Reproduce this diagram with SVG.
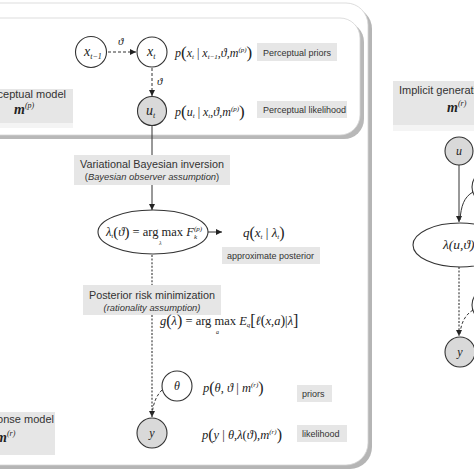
<svg xmlns="http://www.w3.org/2000/svg" width="474" height="474" viewBox="0 0 474 474">
<defs>
<style>
.s{font-family:"Liberation Sans",Arial,sans-serif;fill:#333}
.m{font-family:"Liberation Serif","Times New Roman",serif;fill:#222}
.i{font-style:italic}
.b{font-weight:bold}
.box{fill:#e6e6e6}
.nd{fill:#fff;stroke:#333;stroke-width:1.1}
.ng{fill:#d9d9d9;stroke:#333;stroke-width:1.1}
.ln{fill:none;stroke:#333;stroke-width:1}
.dt{fill:none;stroke:#333;stroke-width:1.1;stroke-dasharray:2,1.6}
.dh{fill:none;stroke:#333;stroke-width:1;stroke-dasharray:3,2}
</style>
<marker id="ah" viewBox="0 0 8 8" refX="8" refY="4" markerWidth="6" markerHeight="6" markerUnits="userSpaceOnUse" orient="auto">
<path d="M0,0 L8,4 L0,8 z" fill="#222"/>
</marker>
</defs>
<rect width="474" height="474" fill="#fff"/>

<g id="panels">
<rect x="-26" y="7" width="398" height="462" rx="22" fill="#b5b5b5"/>
<rect x="-30" y="3" width="398" height="462" rx="22" fill="#fff" stroke="#d4d4d4" stroke-width="0.8"/>
<rect x="-26" y="22" width="390" height="117" rx="20" fill="#b8b8b8"/>
<rect x="-30" y="18" width="390" height="117" rx="20" fill="#fff" stroke="#d4d4d4" stroke-width="0.8"/>
</g>

<g id="labels">
<rect x="-5" y="123" width="78" height="5" fill="#f4f4f4"/>
<rect class="box" x="-5" y="89" width="78" height="34"/>
<text class="s" x="66" y="98" font-size="11" text-anchor="end">Perceptual model</text>
<text class="m" x="14" y="114"><tspan class="i b" font-size="14">m</tspan><tspan class="i" font-size="8" dy="-6">(p)</tspan></text>

<rect x="393" y="125" width="90" height="6" fill="#f4f4f4"/>
<rect class="box" x="393" y="81" width="90" height="44"/>
<text class="s" x="399" y="94" font-size="11">Implicit generative model</text>
<text class="m" x="447" y="112"><tspan class="i b" font-size="14">m</tspan><tspan class="i" font-size="8" dy="-6">(r)</tspan></text>

<rect class="box" x="-5" y="412" width="60" height="43"/>
<text class="s" x="54" y="423" font-size="11" text-anchor="end">Response model</text>
<text class="m" x="-4" y="442"><tspan class="i b" font-size="14">m</tspan><tspan class="i" font-size="8" dy="-6">(r)</tspan></text>

<rect class="box" x="257" y="43" width="80" height="18"/>
<text class="s" x="263" y="56" font-size="9">Perceptual priors</text>
<rect class="box" x="257" y="101" width="90" height="17"/>
<text class="s" x="263" y="113" font-size="9">Perceptual likelihood</text>

<rect class="box" x="222" y="247" width="98" height="17"/>
<text class="s" x="227" y="259" font-size="9">approximate posterior</text>

<rect class="box" x="297" y="385" width="35" height="17"/>
<text class="s" x="302" y="397" font-size="9">priors</text>
<rect class="box" x="297" y="425" width="50" height="17"/>
<text class="s" x="302" y="437" font-size="9">likelihood</text>
</g>

<g id="node-vbi">
<rect class="box" x="74" y="155" width="156" height="30"/>
<text class="s" x="152" y="168" font-size="10.8" text-anchor="middle">Variational Bayesian inversion</text>
<text class="s" x="152" y="180" font-size="9.4" text-anchor="middle">(<tspan class="i">Bayesian observer assumption</tspan>)</text>
</g>

<g id="node-prm">
<rect class="box" x="83" y="285" width="138" height="30"/>
<text class="s" x="152" y="299" font-size="10.8" text-anchor="middle">Posterior risk minimization</text>
<text class="s i" x="152" y="311" font-size="9.4" text-anchor="middle">(rationality assumption)</text>
</g>

<g id="node-xt1">
<circle class="nd" cx="91" cy="52" r="15.5"/>
<text class="m i" x="84" y="56" font-size="14">x<tspan font-size="8" dy="3">t−1</tspan></text>
</g>
<g id="node-xt">
<circle class="nd" cx="152" cy="52" r="15"/>
<text class="m i" x="147" y="56" font-size="14">x<tspan font-size="8" dy="3">t</tspan></text>
</g>
<g id="node-ut">
<circle class="ng" cx="152" cy="111" r="14.5"/>
<text class="m i" x="146" y="115" font-size="14">u<tspan font-size="8" dy="3">t</tspan></text>
</g>

<g id="node-lambda">
<ellipse class="nd" cx="153" cy="232" rx="55" ry="22"/>
<text class="m" x="154" y="236" font-size="12.5" text-anchor="middle"><tspan class="i">λ</tspan><tspan font-size="7" dy="2">t</tspan><tspan font-size="15" dy="-1">(</tspan><tspan class="i" dy="-1">ϑ</tspan><tspan font-size="15" dy="1">)</tspan><tspan dy="-1"> = arg max </tspan><tspan class="i">F</tspan><tspan class="i" font-size="7" dy="-5">(p)</tspan><tspan class="i" font-size="7" dx="-8" dy="8">k</tspan></text>
<text class="m i" x="159" y="245" font-size="6">λ</text>
</g>

<g id="node-theta">
<circle class="nd" cx="177" cy="386" r="15"/>
<text class="m i" x="177" y="390" font-size="12" text-anchor="middle">θ</text>
</g>
<g id="node-y">
<circle class="ng" cx="152" cy="433" r="15"/>
<text class="m i" x="152" y="437" font-size="12" text-anchor="middle">y</text>
</g>

<g id="node-u-r">
<circle class="ng" cx="459" cy="151" r="14"/>
<text class="m i" x="459" y="155" font-size="12" text-anchor="middle">u</text>
</g>
<g id="node-vartheta-r">
<circle class="nd" cx="488" cy="187" r="16"/>
</g>
<g id="node-lambda-r">
<ellipse class="nd" cx="460" cy="245" rx="47" ry="22"/>
<text class="m i" x="443" y="249" font-size="13.5">λ(u,ϑ)</text>
</g>
<g id="node-theta-r">
<circle class="nd" cx="488" cy="305" r="16"/>
</g>
<g id="node-y-r">
<circle class="ng" cx="460" cy="352" r="15"/>
<text class="m i" x="460" y="356" font-size="12" text-anchor="middle">y</text>
</g>

<g id="formulas">
<text class="m" x="175" y="57" font-size="12"><tspan class="i">p</tspan><tspan font-size="17" dy="1">(</tspan><tspan class="i" dy="-1">x</tspan><tspan class="i" font-size="7" dy="2">t</tspan><tspan dy="-2"> | </tspan><tspan class="i">x</tspan><tspan class="i" font-size="7" dy="2">t−1</tspan><tspan dy="-2">,</tspan><tspan class="i">ϑ</tspan><tspan>,</tspan><tspan class="i">m</tspan><tspan class="i" font-size="7" dy="-5">(p)</tspan><tspan font-size="17" dy="6">)</tspan></text>
<text class="m" x="175" y="116" font-size="12"><tspan class="i">p</tspan><tspan font-size="17" dy="1">(</tspan><tspan class="i" dy="-1">u</tspan><tspan class="i" font-size="7" dy="2">t</tspan><tspan dy="-2"> | </tspan><tspan class="i">x</tspan><tspan class="i" font-size="7" dy="2">t</tspan><tspan dy="-2">,</tspan><tspan class="i">ϑ</tspan><tspan>,</tspan><tspan class="i">m</tspan><tspan class="i" font-size="7" dy="-5">(p)</tspan><tspan font-size="17" dy="6">)</tspan></text>
<text class="m" x="243" y="237" font-size="13"><tspan class="i">q</tspan><tspan font-size="16" dy="1">(</tspan><tspan class="i" dy="-1">x</tspan><tspan class="i" font-size="7" dy="2">t</tspan><tspan dy="-2"> | </tspan><tspan class="i">λ</tspan><tspan class="i" font-size="7" dy="2">t</tspan><tspan font-size="16" dy="-1">)</tspan></text>
<text class="m" x="160" y="325" font-size="12.5"><tspan class="i">g</tspan><tspan font-size="16" dy="1">(</tspan><tspan class="i" dy="-1">λ</tspan><tspan font-size="16" dy="1">)</tspan><tspan dy="-1"> = arg max </tspan><tspan class="i">E</tspan><tspan class="i" font-size="7" dy="2">q</tspan><tspan font-size="16" dy="-1">[</tspan><tspan class="i" dy="-1">ℓ</tspan><tspan font-size="14">(</tspan><tspan class="i">x</tspan><tspan>,</tspan><tspan class="i">a</tspan><tspan font-size="14">)</tspan><tspan>|</tspan><tspan class="i">λ</tspan><tspan font-size="16" dy="1">]</tspan></text>
<text class="m i" x="216" y="334" font-size="6">a</text>
<text class="m" x="203" y="392" font-size="12.5"><tspan class="i">p</tspan><tspan font-size="16" dy="1">(</tspan><tspan class="i" dy="-1">θ</tspan><tspan>, </tspan><tspan class="i">ϑ</tspan><tspan> | </tspan><tspan class="i">m</tspan><tspan class="i" font-size="7" dy="-5">(r)</tspan><tspan font-size="16" dy="6">)</tspan></text>
<text class="m" x="202" y="439" font-size="12.5"><tspan class="i">p</tspan><tspan font-size="16" dy="1">(</tspan><tspan class="i" dy="-1">y</tspan><tspan> | </tspan><tspan class="i">θ</tspan><tspan>,</tspan><tspan class="i">λ</tspan><tspan>(</tspan><tspan class="i">ϑ</tspan><tspan>),</tspan><tspan class="i">m</tspan><tspan class="i" font-size="7" dy="-5">(r)</tspan><tspan font-size="16" dy="6">)</tspan></text>
<text class="m i" x="118" y="45" font-size="11">ϑ</text>
<text class="m i" x="157" y="85" font-size="11">ϑ</text>
</g>

<g id="connectors">
<line class="dh" x1="108" y1="52" x2="136" y2="52" marker-end="url(#ah)"/>
<line class="dh" x1="152" y1="68" x2="152" y2="96" marker-end="url(#ah)"/>
<line class="ln" x1="152" y1="126" x2="152" y2="155"/>
<line class="ln" x1="152" y1="185" x2="152" y2="210" marker-end="url(#ah)"/>
<line class="ln" x1="208" y1="232" x2="222" y2="232" marker-end="url(#ah)"/>
<line class="dt" x1="152" y1="255" x2="152" y2="285"/>
<line class="dt" x1="152" y1="315" x2="152" y2="417" marker-end="url(#ah)"/>
<path class="dh" d="M162,390 C156,396 153,404 152,415"/>
<line class="ln" x1="459" y1="165" x2="459" y2="222" marker-end="url(#ah)"/>
<path class="ln" d="M473,192 C464,197 461,206 460,220"/>
<line class="dt" x1="459" y1="267" x2="459" y2="336" marker-end="url(#ah)"/>
<path class="dh" d="M473,310 C465,315 461,323 460,334"/>
</g>
</svg>
